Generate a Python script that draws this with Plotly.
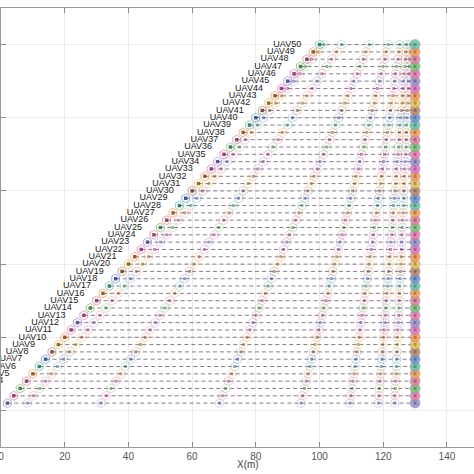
import plotly.graph_objects as go

# ---------------- data ----------------
uav_ids = list(range(1, 51))
uav_labels = ["UAV%d" % i for i in uav_ids]

start_x = [2, 4, 6, 8, 10, 12, 14, 16, 18, 20, 22, 24, 26, 28, 30, 32, 34, 36, 38, 40,
           42, 44, 46, 48, 50, 52, 54, 56, 58, 60, 62, 64, 66, 68, 70, 72, 74, 76, 78, 80,
           82, 84, 86, 88, 90, 92, 94, 96, 98, 100]

step1_x = [8.3, 10.2, 12.1, 14.0, 15.9, 17.8, 19.7, 21.6, 23.5, 25.4, 27.3, 29.2, 31.1, 33.0, 34.9,
           36.8, 38.7, 40.6, 42.5, 44.4, 46.3, 48.2, 50.1, 52.0, 53.9, 55.8, 57.7, 59.6, 61.5, 63.4,
           65.3, 67.2, 69.1, 71.0, 72.9, 74.8, 76.7, 78.6, 80.5, 82.4, 84.3, 86.2, 88.1, 90.0, 91.9,
           93.8, 95.7, 97.6, 99.5, 101.4]
step2_x = [31.4, 33.0, 34.5, 36.1, 37.6, 39.1, 40.7, 42.2, 43.8, 45.3, 46.8, 48.4, 49.9, 51.5, 53.0,
           54.5, 56.1, 57.6, 59.2, 60.7, 62.2, 63.8, 65.3, 66.9, 68.4, 69.9, 71.5, 73.0, 74.6, 76.1,
           77.6, 79.2, 80.7, 82.3, 83.8, 85.3, 86.9, 88.4, 90.0, 91.5, 93.0, 94.6, 96.1, 97.7, 99.2,
           100.7, 102.3, 103.8, 105.4, 106.9]
step3_x = [68.6, 69.5, 70.5, 71.4, 72.4, 73.4, 74.3, 75.3, 76.2, 77.2, 78.2, 79.1, 80.1, 81.0, 82.0,
           83.0, 83.9, 84.9, 85.8, 86.8, 87.8, 88.7, 89.7, 90.6, 91.6, 92.6, 93.5, 94.5, 95.4, 96.4,
           97.4, 98.3, 99.3, 100.2, 101.2, 102.2, 103.1, 104.1, 105.0, 106.0, 107.0, 107.9, 108.9,
           109.8, 110.8, 111.8, 112.7, 113.7, 114.6, 115.6]
step4_x = [94.2, 94.7, 95.3, 95.8, 96.4, 97.0, 97.5, 98.1, 98.6, 99.2, 99.8, 100.3, 100.9, 101.4, 102.0,
           102.6, 103.1, 103.7, 104.2, 104.8, 105.4, 105.9, 106.5, 107.0, 107.6, 108.2, 108.7, 109.3,
           109.8, 110.4, 111.0, 111.5, 112.1, 112.6, 113.2, 113.8, 114.3, 114.9, 115.4, 116.0, 116.6,
           117.1, 117.7, 118.2, 118.8, 119.4, 119.9, 120.5, 121.0, 121.6]
step5_x = [109.5, 109.8, 110.2, 110.5, 110.8, 111.1, 111.4, 111.8, 112.1, 112.4, 112.7, 113.0, 113.4,
           113.7, 114.0, 114.3, 114.6, 115.0, 115.3, 115.6, 115.9, 116.2, 116.6, 116.9, 117.2, 117.5,
           117.8, 118.2, 118.5, 118.8, 119.1, 119.4, 119.8, 120.1, 120.4, 120.7, 121.0, 121.4, 121.7,
           122.0, 122.3, 122.6, 123.0, 123.3, 123.6, 123.9, 124.2, 124.6, 124.9, 125.2]
step6_x = [118.5, 118.7, 118.8, 119.0, 119.2, 119.4, 119.6, 119.7, 119.9, 120.1, 120.3, 120.5, 120.6,
           120.8, 121.0, 121.2, 121.4, 121.5, 121.7, 121.9, 122.1, 122.3, 122.4, 122.6, 122.8, 123.0,
           123.2, 123.3, 123.5, 123.7, 123.9, 124.1, 124.2, 124.4, 124.6, 124.8, 125.0, 125.1, 125.3,
           125.5, 125.7, 125.9, 126.0, 126.2, 126.4, 126.6, 126.8, 126.9, 127.1, 127.3]
step7_x = [123.6, 123.7, 123.8, 123.9, 124.0, 124.1, 124.2, 124.3, 124.4, 124.5, 124.6, 124.7, 124.8,
           124.9, 125.0, 125.1, 125.2, 125.3, 125.4, 125.5, 125.6, 125.7, 125.8, 125.9, 126.0, 126.1,
           126.2, 126.3, 126.4, 126.5, 126.6, 126.7, 126.8, 126.9, 127.0, 127.1, 127.2, 127.3, 127.4,
           127.5, 127.6, 127.7, 127.8, 127.9, 128.0, 128.1, 128.2, 128.3, 128.4, 128.5]
final_x = [130] * 50

x_ticks = [0, 20, 40, 60, 80, 100, 120, 140]
y_ticks = [0, 10, 20, 30, 40, 50]

palette = ['#9a8fd0', '#e37fae', '#7fbf7f', '#d9869e', '#f0a060', '#6fbfaa',
           '#6f93d0', '#b88a70', '#e8c25a', '#f19a5c', '#e07bc0']
dark_palette = ['#4a3f80', '#8a2a5e', '#2f6f2f', '#7a3050', '#8a4a10', '#1f6f5a',
                '#1f437f', '#5e3a25', '#7a5e10', '#8a4010', '#802a6a']

colors = [palette[(i - 1) % len(palette)] for i in uav_ids]
darks = [dark_palette[(i - 1) % len(dark_palette)] for i in uav_ids]

# ---------------- figure ----------------
fig = go.Figure()

# dashed trajectories
lx, ly = [], []
for sx, fx, y in zip(start_x, final_x, uav_ids):
    lx += [sx, fx, None]
    ly += [y, y, None]
fig.add_trace(go.Scatter(x=lx, y=ly, mode='lines', hoverinfo='skip',
                         line=dict(color='rgba(95,80,100,0.75)', width=1, dash='4px,3px')))

# intermediate steps
for sx in [step1_x, step2_x, step3_x, step4_x, step5_x, step6_x, step7_x]:
    fig.add_trace(go.Scatter(x=sx, y=uav_ids, mode='markers', hoverinfo='skip',
                             marker=dict(symbol='hexagon-open', size=9, color=colors,
                                         opacity=0.4, line=dict(width=1))))
    fig.add_trace(go.Scatter(x=sx, y=uav_ids, mode='markers', hoverinfo='skip',
                             marker=dict(symbol='square', size=3, color=darks, opacity=0.5,
                                         line=dict(width=0))))

# start positions
fig.add_trace(go.Scatter(x=start_x, y=uav_ids, mode='markers', hoverinfo='skip',
                         marker=dict(symbol='hexagon-open', size=9, color=colors,
                                     opacity=0.75, line=dict(width=1))))
fig.add_trace(go.Scatter(x=start_x, y=uav_ids, mode='markers', hoverinfo='skip',
                         marker=dict(symbol='square', size=3.5, color=darks, opacity=0.85,
                                     line=dict(width=0))))

# final positions
fig.add_trace(go.Scatter(x=final_x, y=uav_ids, mode='markers', hoverinfo='skip',
                         marker=dict(symbol='circle', size=10, color=colors, opacity=0.85,
                                     line=dict(width=0.6, color='rgba(120,100,120,0.6)'))))
fig.add_trace(go.Scatter(x=final_x, y=uav_ids, mode='markers', hoverinfo='skip',
                         marker=dict(symbol='square', size=3, color=darks, opacity=0.5,
                                     line=dict(width=0))))

# labels
fig.add_trace(go.Scatter(x=[s - 14.5 for s in start_x], y=uav_ids, mode='text',
                         text=uav_labels, textposition='middle right', hoverinfo='skip',
                         cliponaxis=True,
                         textfont=dict(family='Liberation Sans, Arial', size=9, color='#1a1a1a')))

fig.add_annotation(x=77.5, xref='x', y=-0.041, yref='paper', text='X(m)', showarrow=False,
                   yanchor='middle', font=dict(family='Liberation Sans, Arial', size=10, color='#444'))

fig.update_layout(
    width=474, height=474,
    margin=dict(l=1, r=0, t=8, b=27, autoexpand=False),
    paper_bgcolor='white', plot_bgcolor='white',
    showlegend=False,
    xaxis=dict(range=[0, 148.5], tickvals=x_ticks, ticktext=[str(v) for v in x_ticks],
               automargin=False, ticklabeloverflow='allow',
               showgrid=True, gridcolor='#ececec', gridwidth=1, zeroline=False,
               ticks='inside', ticklen=5, tickcolor='#8c8c8c', showline=True,
               linecolor='#9a9a9a', linewidth=1, mirror='ticks',
               tickfont=dict(family='Liberation Sans, Arial', size=10, color='#555')),
    yaxis=dict(range=[-5, 55], tickvals=y_ticks, showticklabels=False, automargin=False,
               showgrid=True, gridcolor='#ececec', gridwidth=1, zeroline=False,
               ticks='inside', ticklen=5, tickcolor='#8c8c8c', showline=True,
               linecolor='#9a9a9a', linewidth=1, mirror=False),
)

fig.write_html("out.html", config={'displayModeBar': False},
               post_script="document.body.style.margin='0';document.body.style.overflow='hidden';")
